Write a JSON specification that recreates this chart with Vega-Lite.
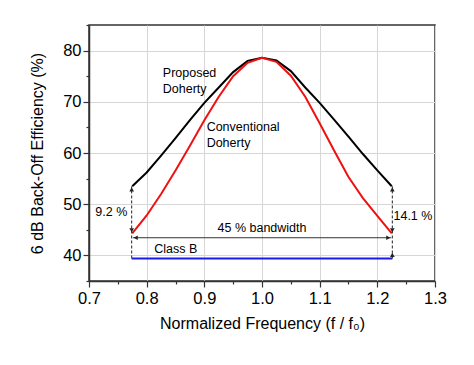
{
  "$schema": "https://vega.github.io/schema/vega-lite/v6.json",
  "width": 346,
  "height": 256,
  "autosize": "none",
  "padding": {"left": 89, "top": 25, "right": 39, "bottom": 84},
  "background": "white",
  "config": {
    "font": "Liberation Sans",
    "view": {"stroke": "#333", "strokeWidth": 1.5},
    "axis": {
      "domainColor": "#333",
      "domainWidth": 1.5,
      "tickColor": "#333",
      "tickWidth": 1.2,
      "labelColor": "black",
      "titleColor": "black",
      "labelFont": "Liberation Sans",
      "titleFont": "Liberation Sans",
      "labelFontSize": 16.5,
      "titleFontSize": 16,
      "titleFontWeight": "normal",
      "gridColor": "#d6d6d6",
      "gridWidth": 1
    }
  },
  "datasets": {
    "curves": [
      {"series": "Proposed", "f": 0.775, "eff": 53.5},
      {"series": "Proposed", "f": 0.8, "eff": 56.2},
      {"series": "Proposed", "f": 0.825, "eff": 59.5},
      {"series": "Proposed", "f": 0.85, "eff": 62.9},
      {"series": "Proposed", "f": 0.875, "eff": 66.4},
      {"series": "Proposed", "f": 0.9, "eff": 69.8},
      {"series": "Proposed", "f": 0.925, "eff": 72.8},
      {"series": "Proposed", "f": 0.95, "eff": 75.8},
      {"series": "Proposed", "f": 0.975, "eff": 78.0},
      {"series": "Proposed", "f": 1.0, "eff": 78.6},
      {"series": "Proposed", "f": 1.025, "eff": 78.1},
      {"series": "Proposed", "f": 1.05, "eff": 76.0},
      {"series": "Proposed", "f": 1.075, "eff": 72.8},
      {"series": "Proposed", "f": 1.1, "eff": 69.8},
      {"series": "Proposed", "f": 1.125, "eff": 66.5},
      {"series": "Proposed", "f": 1.15, "eff": 63.2},
      {"series": "Proposed", "f": 1.175, "eff": 59.8},
      {"series": "Proposed", "f": 1.2, "eff": 56.6},
      {"series": "Proposed", "f": 1.225, "eff": 53.5},
      {"series": "Conventional", "f": 0.775, "eff": 44.3},
      {"series": "Conventional", "f": 0.8, "eff": 47.8},
      {"series": "Conventional", "f": 0.825, "eff": 52.0},
      {"series": "Conventional", "f": 0.85, "eff": 56.6},
      {"series": "Conventional", "f": 0.875, "eff": 61.4},
      {"series": "Conventional", "f": 0.9, "eff": 66.4},
      {"series": "Conventional", "f": 0.925, "eff": 71.0},
      {"series": "Conventional", "f": 0.95, "eff": 75.0},
      {"series": "Conventional", "f": 0.975, "eff": 77.6},
      {"series": "Conventional", "f": 1.0, "eff": 78.6},
      {"series": "Conventional", "f": 1.025, "eff": 77.8},
      {"series": "Conventional", "f": 1.05, "eff": 75.1},
      {"series": "Conventional", "f": 1.075, "eff": 71.0},
      {"series": "Conventional", "f": 1.1, "eff": 65.8},
      {"series": "Conventional", "f": 1.125, "eff": 60.5},
      {"series": "Conventional", "f": 1.15, "eff": 55.3},
      {"series": "Conventional", "f": 1.175, "eff": 51.2},
      {"series": "Conventional", "f": 1.2, "eff": 47.7},
      {"series": "Conventional", "f": 1.225, "eff": 44.3},
      {"series": "Class B", "f": 0.774, "eff": 39.4},
      {"series": "Class B", "f": 1.226, "eff": 39.4}
    ],
    "vrules": [
      {"f": 0.774, "eff": 39.4, "eff2": 53.5},
      {"f": 1.226, "eff": 39.4, "eff2": 53.5}
    ],
    "hrules": [
      {"f": 0.776, "f2": 1.224, "eff": 43.45}
    ],
    "heads": [
      {"f": 0.774, "eff": 52.9, "dir": "up"},
      {"f": 0.774, "eff": 44.9, "dir": "down"},
      {"f": 1.226, "eff": 52.9, "dir": "up"},
      {"f": 1.226, "eff": 44.9, "dir": "down"},
      {"f": 1.226, "eff": 40.1, "dir": "up"},
      {"f": 0.781, "eff": 43.45, "dir": "left"},
      {"f": 1.219, "eff": 43.45, "dir": "right"}
    ],
    "leftText": [
      {"f": 0.828, "eff": 74.9, "label": ["Proposed", "Doherty"]},
      {"f": 0.904, "eff": 64.3, "label": ["Conventional", "Doherty"]},
      {"f": 0.711, "eff": 47.6, "label": ["9.2 %"]},
      {"f": 1.228, "eff": 47.0, "label": ["14.1 %"]},
      {"f": 0.813, "eff": 40.5, "label": ["Class B"]}
    ],
    "centerText": [
      {"f": 1.0, "eff": 44.6, "label": ["45 % bandwidth"]}
    ]
  },
  "encoding": {
    "x": {
      "field": "f",
      "type": "quantitative",
      "scale": {"domain": [0.7, 1.3], "nice": false, "zero": false},
      "axis": {
        "title": "Normalized Frequency (f / f₀)",
        "values": [0.7, 0.75, 0.8, 0.85, 0.9, 0.95, 1.0, 1.05, 1.1, 1.15, 1.2, 1.25, 1.3],
        "labelExpr": "abs(round(datum.value*10) - datum.value*10) < 0.01 ? format(datum.value, '.1f') : ''",
        "tickSize": {"condition": {"test": "abs(round(datum.value*10) - datum.value*10) < 0.01", "value": 6}, "value": 3},
        "gridOpacity": {"condition": {"test": "abs(round(datum.value*10) - datum.value*10) < 0.01", "value": 1}, "value": 0},
        "labelPadding": 3,
        "titlePadding": 9,
        "labelFlush": false,
        "labelOverlap": false
      }
    },
    "y": {
      "field": "eff",
      "type": "quantitative",
      "scale": {"domain": [35, 85], "nice": false, "zero": false},
      "axis": {
        "title": "6 dB Back-Off Efficiency (%)",
        "values": [35, 40, 45, 50, 55, 60, 65, 70, 75, 80, 85],
        "labelExpr": "datum.value % 10 === 0 ? datum.value : ''",
        "tickSize": {"condition": {"test": "datum.value % 10 === 0", "value": 6}, "value": 3},
        "gridOpacity": {"condition": {"test": "datum.value % 10 === 0", "value": 1}, "value": 0},
        "labelPadding": 2,
        "titlePadding": 17,
        "labelFlush": false,
        "labelOverlap": false
      }
    }
  },
  "layer": [
    {
      "data": {"name": "curves"},
      "mark": {"type": "line", "strokeWidth": 2},
      "encoding": {
        "color": {
          "field": "series",
          "type": "nominal",
          "scale": {"domain": ["Proposed", "Conventional", "Class B"], "range": ["#000000", "#ee1111", "#1a1aee"]},
          "legend": null
        },
        "detail": {"field": "series"}
      }
    },
    {
      "data": {"name": "vrules"},
      "mark": {"type": "rule", "strokeDash": [3, 2], "strokeWidth": 1, "color": "#222"},
      "encoding": {"y2": {"field": "eff2"}}
    },
    {
      "data": {"name": "hrules"},
      "mark": {"type": "rule", "strokeWidth": 1, "color": "#333"},
      "encoding": {"x2": {"field": "f2"}}
    },
    {
      "data": {"name": "heads"},
      "mark": {"type": "point", "filled": true, "size": 22, "color": "#222", "opacity": 1},
      "encoding": {
        "shape": {
          "field": "dir",
          "type": "nominal",
          "scale": {"domain": ["up", "down", "left", "right"], "range": ["triangle-up", "triangle-down", "triangle-left", "triangle-right"]},
          "legend": null
        }
      }
    },
    {
      "data": {"name": "leftText"},
      "mark": {"type": "text", "align": "left", "baseline": "alphabetic", "fontSize": 12.5, "lineHeight": 16, "color": "black", "font": "Liberation Sans"},
      "encoding": {"text": {"field": "label"}}
    },
    {
      "data": {"name": "centerText"},
      "mark": {"type": "text", "align": "center", "baseline": "alphabetic", "fontSize": 12.5, "color": "black", "font": "Liberation Sans"},
      "encoding": {"text": {"field": "label"}}
    }
  ]
}
